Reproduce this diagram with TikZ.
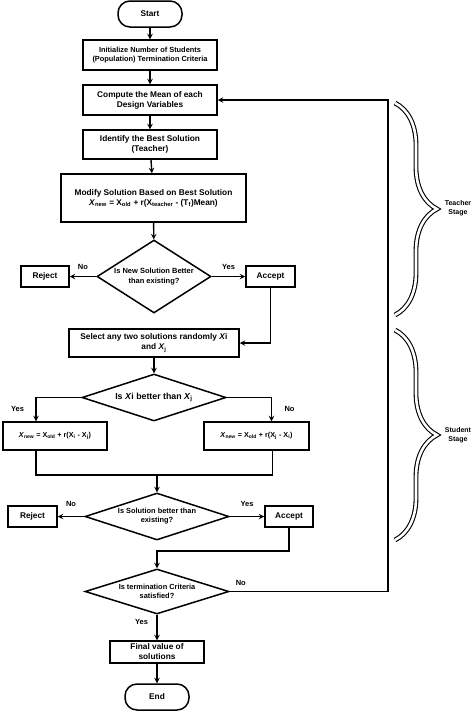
\documentclass[tikz,border=0pt]{standalone}
\usepackage{fontspec}
\setmainfont{Liberation Sans}
\usetikzlibrary{shapes.geometric, decorations.pathreplacing}

\begin{document}
\begin{tikzpicture}[x=1pt, y=-1pt, >=stealth,
    box/.style={draw, line width=1.5pt, align=center, inner sep=1pt, font=\bfseries\fontsize{8.3}{10}\selectfont},
    term/.style={box, rounded corners=12pt, minimum width=64pt, minimum height=26pt},
    decision/.style={draw, diamond, line width=1.5pt, align=center, inner sep=-3pt, font=\bfseries\fontsize{7.4}{9}\selectfont},
    small/.style={box, font=\bfseries\fontsize{7.2}{8}\selectfont},
    flow/.style={->, line width=1.4pt},
    lbl/.style={font=\bfseries\fontsize{7.5}{9}\selectfont},
    stage/.style={decorate, decoration={brace, amplitude=42pt, aspect=0.5}, double, line width=1.1pt, double distance=2.6pt}]
  \useasboundingbox (0,0) rectangle (474,713);

  % teacher phase
  \node[term] (start) at (150,14) {Start};
  \node[box, minimum width=134pt, minimum height=30pt, font=\bfseries\fontsize{7.4}{9}\selectfont] (init) at (150,55)
    {Initialize Number of Students\\(Population) Termination Criteria};
  \node[box, minimum width=134pt, minimum height=30pt] (compute) at (150,100) {Compute the Mean of each\\Design Variables};
  \node[box, minimum width=134pt, minimum height=29pt] (identify) at (150,144.5) {Identify the Best Solution\\(Teacher)};
  \node[box, minimum width=185pt, minimum height=48pt] (modify) at (153.5,198)
    {Modify Solution Based on Best Solution\\\textit{X}\textsubscript{new} = X\textsubscript{old} + r(X\textsubscript{teacher} - (T\textsubscript{f})Mean)};
  \node[decision, minimum width=114pt, minimum height=73pt, aspect=1.56, font=\bfseries\fontsize{7.5}{10}\selectfont] (dec1) at (154,276.5)
    {Is New Solution Better\\than existing?};
  \node[box, minimum width=48pt, minimum height=21pt] (rej1) at (45,276.5) {Reject};
  \node[box, minimum width=49pt, minimum height=21pt] (acc1) at (270.5,276.5) {Accept};

  % learner phase
  \node[box, minimum width=170pt, minimum height=28pt] (select) at (154,343)
    {Select any two solutions randomly \textit{X}i\\and \textit{X}\textsubscript{j}};
  \node[decision, minimum width=144pt, minimum height=47pt, aspect=3.06, font=\bfseries\fontsize{8.8}{10}\selectfont] (dec2) at (154,397.5)
    {Is \textit{X}i better than \textit{X}\textsubscript{j}};
  \node[small, minimum width=104pt, minimum height=28pt] (fl) at (55,436)
    {\textit{X}\textsubscript{new} = X\textsubscript{old} + r(X\textsubscript{i} - X\textsubscript{j})};
  \node[small, minimum width=105pt, minimum height=28pt] (fr) at (256.5,436)
    {\textit{X}\textsubscript{new} = X\textsubscript{old} + r(X\textsubscript{j} - X\textsubscript{i})};
  \node[decision, minimum width=144pt, minimum height=47pt, aspect=3.06] (dec3) at (157,516.5) {Is Solution better than\\existing?};
  \node[box, minimum width=49pt, minimum height=21pt] (rej2) at (32.5,516.5) {Reject};
  \node[box, minimum width=48pt, minimum height=21pt] (acc2) at (289,516.5) {Accept};
  \node[decision, minimum width=144pt, minimum height=45pt, aspect=3.2] (dec4) at (157,591.5) {Is termination Criteria\\satisfied?};
  \node[box, minimum width=94pt, minimum height=22pt] (final) at (157,652) {Final value of\\solutions};
  \node[term] (end) at (157,697) {End};

  \coordinate (merge) at (157,475);
  \coordinate (join) at (157,551);
  \coordinate (loop) at (388,300);

  \draw[flow] (start) -- (init);
  \draw[flow] (init) -- (compute);
  \draw[flow] (compute) -- (identify);
  \draw[flow] (identify) -- (modify);
  \draw[flow] (modify) -- (dec1);
  \draw[flow] (dec1) -- (rej1) node[lbl, midway, above=3pt] {No};
  \draw[flow] (dec1) -- (acc1) node[lbl, midway, above=3pt] {Yes};
  \draw[flow] (acc1.south) |- (select.east);
  \draw[flow] (select) -- (dec2);
  \draw[flow] (dec2.west) -| ([xshift=-19pt]fl.north) node[lbl, pos=0.75, left=8pt] {Yes};
  \draw[flow] (dec2.east) -| ([xshift=15pt]fr.north) node[lbl, pos=0.75, right=9pt] {No};
  \draw[line width=1.4pt] ([xshift=-19pt]fl.south) |- (merge);
  \draw[line width=1.4pt] ([xshift=16pt]fr.south) |- (merge);
  \draw[flow] (merge) -- (dec3.north);
  \draw[flow] (dec3) -- (rej2) node[lbl, midway, above=6pt] {No};
  \draw[flow] (dec3) -- (acc2) node[lbl, midway, above=6pt] {Yes};
  \draw[flow] (acc2.south) |- (join) -- (dec4.north);
  \draw[flow] (dec4.east) node[lbl, above right=2pt] {No} -| (loop) |- (compute.east);
  \draw[flow] (dec4) -- (final) node[lbl, pos=0.3, left=5pt] {Yes};
  \draw[flow] (final) -- (end);

  % stage braces
  \draw[stage] (395,103) -- (395,315);
  \draw[stage] (395,330) -- (395,540);
  \node[font=\bfseries\fontsize{7}{9}\selectfont, align=center] (teacher) at (458,208) {Teacher\\Stage};
  \node[font=\bfseries\fontsize{7}{9}\selectfont, align=center] (student) at (458,435) {Student\\Stage};
\end{tikzpicture}
\end{document}
